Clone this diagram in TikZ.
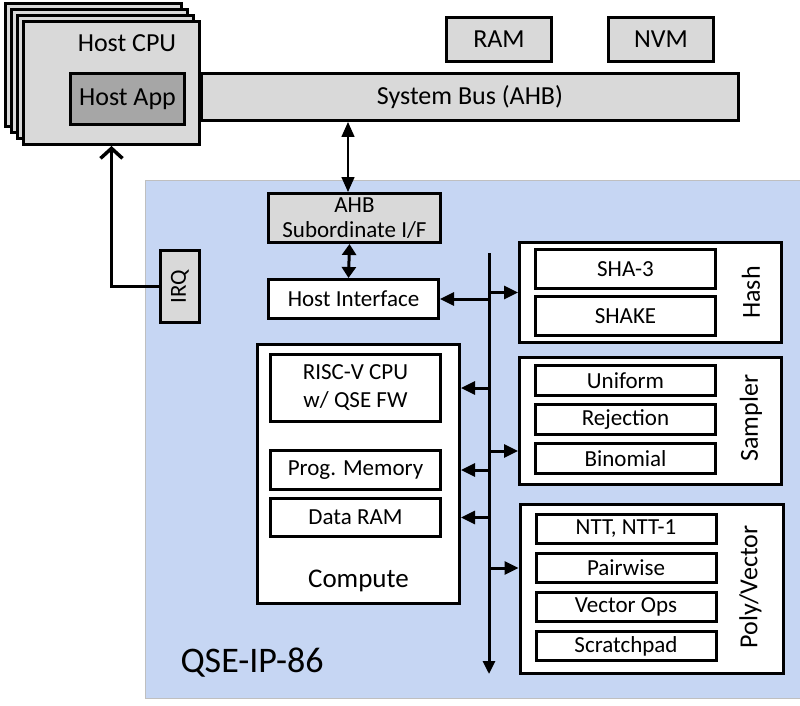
\documentclass[tikz,border=0pt]{standalone}
\usepackage{graphicx}
\usepackage{fontspec}
\setmainfont{Carlito}
\usetikzlibrary{arrows.meta,positioning}
\definecolor{ipblue}{RGB}{198,214,243}
\definecolor{hostgray}{RGB}{217,217,217}
\definecolor{appgray}{RGB}{166,166,166}

\begin{document}
\begin{tikzpicture}[x=1pt,y=-1pt]
		\tikzset{
  block/.style={
         rectangle,
         draw=black, line width=3pt,
         fill=white,
         inner sep=0,
         text centered,
         font=\fontsize{23}{25}\selectfont,
         },
  grayblock/.style={block, fill=hostgray},
  big/.style={font=\fontsize{26}{30}\selectfont},
  group/.style={block, minimum width=262pt},
  unit/.style={block, minimum width=180pt},
  sidelabel/.style={rotate=90, big},
  branch/.style={line width=3pt, -{Triangle[length=14pt,width=13pt]}},
}

    \useasboundingbox (0,0) rectangle (800,706);

    \node[fill=ipblue, draw=black!25, line width=0.75pt,
      minimum width=655pt, minimum height=518pt,
      inner sep=0, anchor=north west] (ip) at (145,180) {};

    \node[grayblock, big,
      minimum width=537pt, minimum height=47pt] (bus) at (470,97)
      {System Bus (AHB)};

    \foreach \k in {3,2,1}
      \node[grayblock, minimum width=176pt, minimum height=123pt]
        (cpu\k) at (111.5-6*\k, 83-6*\k) {};
    \node[grayblock, minimum width=176pt, minimum height=123pt] (cpu) at (111.5,83) {};
    \node[big] (cputext) at (127,43) {Host CPU};
    \node[block, big, fill=appgray,
      minimum width=114pt, minimum height=51pt] (app) at (127.5,99) {Host App};

    \node[grayblock, big,
      minimum width=105pt, minimum height=44pt] (ram) at (499,39.5) {RAM};
    \node[grayblock, big,
      minimum width=105pt, minimum height=44pt] (nvm) at (661,39.5) {NVM};

    \node[grayblock, align=center,
      minimum width=172pt, minimum height=49pt] (ahb) at (354.5,218)
      {AHB\\Subordinate I/F};
    \node[block,
      minimum width=170pt, minimum height=39pt] (hostif) at (353.5,299)
      {Host Interface};
    \node[grayblock,
      minimum width=39pt, minimum height=72pt] (irq) at (180,286.5)
      {\rotatebox{90}{IRQ}};

    \node[block,
      minimum width=202pt, minimum height=259pt] (compute) at (358.5,474) {};
    \node[block, align=center, font=\fontsize{23}{28}\selectfont,
      minimum width=170pt, minimum height=67pt] (risc) at (355.5,388)
      {RISC-V CPU\\w/ QSE FW};
    \node[block,
      minimum width=170pt, minimum height=39pt] (prog) at (355.5,470)
      {Prog. Memory};
    \node[block,
      below=6pt of prog,
      minimum width=170pt, minimum height=38pt] (dataram)
      {Data RAM};
    \node[font=\fontsize{27}{31}\selectfont]
      (computetext) at ([yshift=24pt]compute.south) {Compute};

    \node[group, minimum height=100pt] (hash) at (650.5,292.5) {};
    \node[unit, minimum height=39pt] (sha) at (625.5,269) {SHA-3};
    \node[unit, minimum height=39pt, below=5pt of sha] (shake) {SHAKE};
    \node[sidelabel] (hashtext) at ([xshift=-32pt]hash.east) {Hash};

    \node[group, minimum height=127pt] (sampler) at (650.5,421) {};
    \node[unit, minimum height=30pt] (uniform) at (625.5,380.5) {Uniform};
    \node[unit, minimum height=30pt, below=6pt of uniform] (rejection) {Rejection};
    \node[unit, minimum height=30pt, below=6pt of rejection] (binomial) {Binomial};
    \node[sidelabel] (samplertext) at ([xshift=-32pt, yshift=3pt]sampler.east) {Sampler};

    \node[group, minimum width=263pt, minimum height=169pt] (poly) at (651.5,589) {};
    \node[unit, minimum height=29pt] (ntt) at (626,529) {NTT, NTT-1};
    \node[unit, minimum height=29pt, below=7pt of ntt] (pairwise) {Pairwise};
    \node[unit, minimum height=29pt, below=7pt of pairwise] (vectorops) {Vector Ops};
    \node[unit, minimum height=29pt, below=7pt of vectorops] (scratch) {Scratchpad};
    \node[sidelabel] (polytext) at ([xshift=-34pt, yshift=2pt]poly.east) {Poly/Vector};

    \node[font=\fontsize{36}{40}\selectfont] (ipname) at (252,663) {QSE-IP-86};

    \coordinate (vtop) at (489,253);
    \coordinate (vbot) at (489,674);
    \coordinate (samplerin) at ([yshift=-30pt]sampler.west);

    \draw[line width=1.5pt,
      {Triangle[length=15pt,width=13pt]}-{Triangle[length=15pt,width=13pt]}]
      ([xshift=-6.5pt]ahb.north) -- ([xshift=-6.5pt]ahb.north |- bus.south);
    \draw[line width=3pt,
      {Triangle[length=11pt,width=14pt]}-{Triangle[length=11pt,width=14pt]}]
      ([xshift=-5pt]ahb.south) -- ([xshift=-5pt]hostif.north);

    \draw[line width=3.5pt, -{Straight Barb[length=10pt,width=22pt]}]
      (irq.west) -| (cpu.south);

    \draw[line width=3pt, -{Triangle[length=13pt,width=12pt]}] (vtop) -- (vbot);

    \draw[branch] (hostif.east -| vtop) -- (hostif.east);
    \draw[branch] (hash.west -| vtop) -- (hash.west);
    \draw[branch] (samplerin -| vtop) -- (samplerin);
    \draw[branch] (pairwise -| vtop) -- (pairwise -| poly.west);
    \draw[branch] (risc -| vtop) -- (risc -| compute.east);
    \draw[branch] (prog -| vtop) -- (prog -| compute.east);
    \draw[branch] (dataram -| vtop) -- (dataram -| compute.east);

	\end{tikzpicture}
\end{document}
